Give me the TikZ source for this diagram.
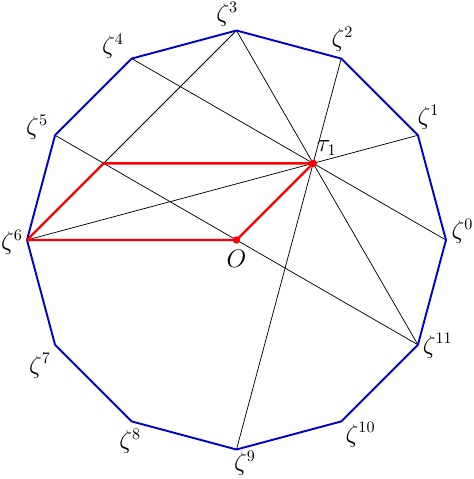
\documentclass[tikz,border=0pt]{standalone}
\usetikzlibrary{calc}
\begin{document}
\begin{tikzpicture}[x=5cm,y=5cm,
  poly/.style={blue!80!black,line width=1.3pt,line join=round},
  chord/.style={black,line width=0.5pt},
  redl/.style={red,line width=1.6pt,line join=round},
  lab/.style={font=\fontsize{16}{18}\selectfont,inner sep=0pt},
  dot/.style={circle,fill=red,inner sep=0pt,minimum size=5pt}]
\useasboundingbox (-1.1288,-1.1408) rectangle (1.1336,1.1456);
\foreach \k in {0,...,11} {\coordinate (z\k) at (\k*30:1);}
\coordinate (O) at (0,0);
\coordinate (t1) at (0.3660254,0.3660254);
\coordinate (p) at (-0.6339746,0.3660254);
% chords
\draw[chord] (z4) -- (z0);
\draw[chord] (z3) -- (z11);
\draw[chord] (z2) -- (z9);
\draw[chord] (z6) -- (z1);
\draw[chord] (z5) -- (z11);
\draw[chord] (z3) -- (p);
% polygon
\draw[poly] (z0) \foreach \k in {1,...,11} {-- (z\k)} -- cycle;
% red parallelogram
\draw[redl] (z6) -- (O) -- (t1) -- (p) -- cycle;
\node[dot] (Od) at (O) {};
\node[dot] (td) at (t1) {};
% labels
\node[lab] (l0) at (1.078,0.04) {$\zeta^0$};
\node[lab] (l1) at (0.916,0.584) {$\zeta^1$};
\node[lab] (l2) at (0.506,0.957) {$\zeta^2$};
\node[lab] (l3) at (-0.045,1.078) {$\zeta^3$};
\node[lab] (l4) at (-0.59,0.923) {$\zeta^4$};
\node[lab] (l5) at (-0.952,0.537) {$\zeta^5$};
\node[lab] (l6) at (-1.072,-0.012) {$\zeta^6$};
\node[lab] (l7) at (-0.938,-0.6) {$\zeta^7$};
\node[lab] (l8) at (-0.508,-0.96) {$\zeta^8$};
\node[lab] (l9) at (0.04,-1.065) {$\zeta^9$};
\node[lab] (l10) at (0.592,-0.93) {$\zeta^{10}$};
\node[lab] (l11) at (0.96,-0.505) {$\zeta^{11}$};
\node[lab] (lt) at (0.43,0.441) {$\tau_1$};
\node[lab] (lO) at (0,-0.088) {$O$};
\end{tikzpicture}
\end{document}
